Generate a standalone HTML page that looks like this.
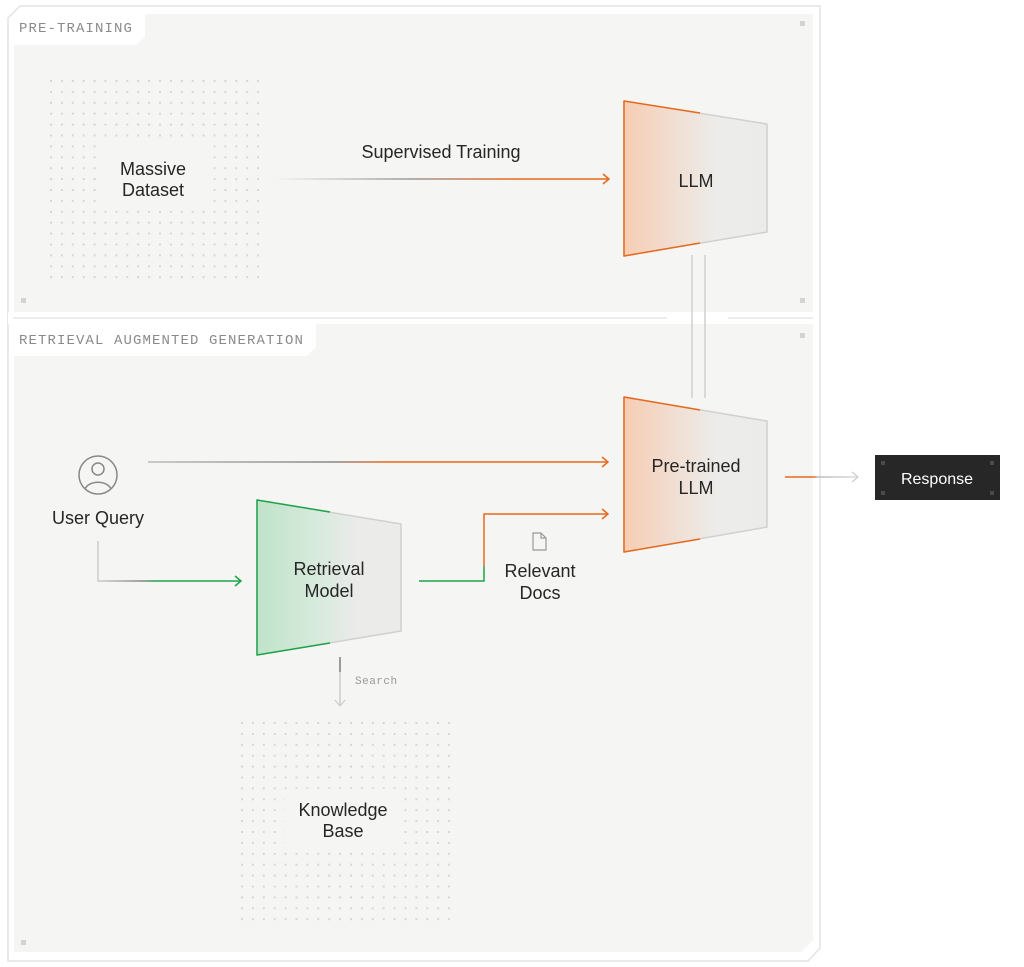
<!DOCTYPE html>
<html><head><meta charset="utf-8"><style>
html,body{margin:0;padding:0;background:#fff;}
svg{display:block;}
.t{font-family:"Liberation Sans",sans-serif;fill:#262626;font-size:18px;text-anchor:middle;}
.m{font-family:"Liberation Mono",monospace;fill:#8a8a8a;font-size:14px;letter-spacing:1.1px;}
</style></head><body>
<svg width="1024" height="967" viewBox="0 0 1024 967" xmlns="http://www.w3.org/2000/svg">
<defs>
<pattern id="dots" x="50" y="80" width="10.9" height="10.9" patternUnits="userSpaceOnUse">
<rect x="0" y="0" width="2" height="2" fill="#d6d6d6"/>
</pattern>
<linearGradient id="orng" x1="0" x2="1" y1="0" y2="0">
<stop offset="0" stop-color="#f6cdb3"/><stop offset="0.35" stop-color="#f1ded2"/><stop offset="0.65" stop-color="#ececea"/><stop offset="1" stop-color="#ebebea"/>
</linearGradient>
<linearGradient id="grn" x1="0" x2="1" y1="0" y2="0">
<stop offset="0" stop-color="#bfe3c9"/><stop offset="0.4" stop-color="#d6eadb"/><stop offset="0.7" stop-color="#ebebea"/><stop offset="1" stop-color="#ebebea"/>
</linearGradient>
<linearGradient id="l1" x1="275" x2="610" y1="0" y2="0" gradientUnits="userSpaceOnUse">
<stop offset="0" stop-color="#f5f5f4"/><stop offset="0.4" stop-color="#999"/><stop offset="0.7" stop-color="#e8691c"/><stop offset="1" stop-color="#e8691c"/>
</linearGradient>
<linearGradient id="l2" x1="148" x2="608" y1="0" y2="0" gradientUnits="userSpaceOnUse">
<stop offset="0" stop-color="#bbb"/><stop offset="0.4" stop-color="#888"/><stop offset="0.52" stop-color="#e8691c"/><stop offset="1" stop-color="#e8691c"/>
</linearGradient>
<linearGradient id="l3" x1="98" x2="242" y1="0" y2="0" gradientUnits="userSpaceOnUse">
<stop offset="0" stop-color="#ccc"/><stop offset="0.3" stop-color="#888"/><stop offset="0.4" stop-color="#1ea34a"/><stop offset="1" stop-color="#1ea34a"/>
</linearGradient>
<linearGradient id="l4" x1="785" x2="858" y1="0" y2="0" gradientUnits="userSpaceOnUse">
<stop offset="0" stop-color="#e8691c"/><stop offset="0.4" stop-color="#e8691c"/><stop offset="0.45" stop-color="#bbb"/><stop offset="1" stop-color="#ddd"/>
</linearGradient>
</defs>
<path d="M20,6 H820 V948 L808,961 H8 V18 Z" fill="#fff" stroke="#e3e3e3" stroke-width="1.5"/>
<rect x="14" y="14" width="799" height="298" fill="#f5f5f4"/>
<path d="M14,324 H813 V940 L801,952 H14 Z" fill="#f5f5f4"/>
<rect x="8" y="312" width="806" height="12" fill="#fff"/>
<line x1="14" y1="318" x2="666" y2="318" stroke="#e6e6e6" stroke-width="1.5" stroke-linecap="round"/>
<line x1="728" y1="318" x2="813" y2="318" stroke="#e6e6e6" stroke-width="1.5"/>
<path d="M14,14 H145 V36 L136,45 H14 Z" fill="#fff"/>
<text class="m" x="19" y="32">PRE-TRAINING</text>
<path d="M14,324 H316 V347 L307,356 H14 Z" fill="#fff"/>
<text class="m" x="19" y="344">RETRIEVAL AUGMENTED GENERATION</text>
<g fill="#d3d3d3"><rect x="800" y="21" width="5" height="5"/><rect x="21" y="298" width="5" height="5"/><rect x="800" y="298" width="5" height="5"/><rect x="800" y="333" width="5" height="5"/><rect x="21" y="940" width="5" height="5"/></g>
<rect x="49" y="79" width="210" height="200" fill="url(#dots)"/>
<rect x="96" y="143" width="115" height="63" fill="#f5f5f4"/>
<text class="t" x="153" y="175">Massive</text><text class="t" x="153" y="196">Dataset</text>
<pattern id="dots2" x="241" y="722" width="10.9" height="10.9" patternUnits="userSpaceOnUse"><rect width="2" height="2" fill="#d6d6d6"/></pattern>
<rect x="240" y="721" width="210" height="200" fill="url(#dots2)"/>
<rect x="285" y="789" width="115" height="63" fill="#f5f5f4"/>
<text class="t" x="343" y="816">Knowledge</text><text class="t" x="343" y="837">Base</text>
<text class="t" x="441" y="158">Supervised Training</text>
<line x1="275" y1="179" x2="609" y2="179" stroke="url(#l1)" stroke-width="1.5"/>
<path d="M603,174 L609,179 L603,184" fill="none" stroke="#e8691c" stroke-width="1.5"/>
<path d="M624,101 L767,124 V232 L624,256 Z" fill="url(#orng)" stroke="#d0d0d0" stroke-width="1.5" stroke-linejoin="round"/>
<path d="M700,113 L624,101 V256 L700,243" fill="none" stroke="#e8691c" stroke-width="1.5" stroke-linejoin="round"/>
<text class="t" x="696" y="187">LLM</text>
<line x1="692" y1="255" x2="692" y2="398" stroke="#d0d0d0" stroke-width="1.5"/>
<line x1="705" y1="255" x2="705" y2="398" stroke="#d0d0d0" stroke-width="1.5"/>
<path d="M624,397 L767,421 V527 L624,552 Z" fill="url(#orng)" stroke="#d0d0d0" stroke-width="1.5" stroke-linejoin="round"/>
<path d="M700,410 L624,397 V552 L700,539" fill="none" stroke="#e8691c" stroke-width="1.5" stroke-linejoin="round"/>
<text class="t" x="696" y="472">Pre-trained</text><text class="t" x="696" y="494">LLM</text>
<circle cx="98" cy="475" r="19" fill="none" stroke="#888" stroke-width="1.5"/>
<circle cx="98" cy="469" r="6" fill="none" stroke="#888" stroke-width="1.5"/>
<path d="M85,489 C89,480 107,480 111,489" fill="none" stroke="#888" stroke-width="1.5"/>
<text class="t" x="98" y="524">User Query</text>
<line x1="148" y1="462" x2="607" y2="462" stroke="url(#l2)" stroke-width="1.5"/>
<path d="M602,457 L608,462 L602,467" fill="none" stroke="#e8691c" stroke-width="1.5"/>
<path d="M98,541 V581 H241" fill="none" stroke="url(#l3)" stroke-width="1.5"/>
<path d="M235,576 L241,581 L235,586" fill="none" stroke="#1ea34a" stroke-width="1.5"/>
<path d="M257,500 L401,524 V631 L257,655 Z" fill="url(#grn)" stroke="#d0d0d0" stroke-width="1.5" stroke-linejoin="round"/>
<path d="M330,512 L257,500 V655 L330,643" fill="none" stroke="#1ea34a" stroke-width="1.5" stroke-linejoin="round"/>
<text class="t" x="329" y="575">Retrieval</text><text class="t" x="329" y="597">Model</text>
<path d="M419,581 H484 V566" fill="none" stroke="#1ea34a" stroke-width="1.5"/>
<path d="M484,566 V514 H607" fill="none" stroke="#e8691c" stroke-width="1.5"/>
<path d="M602,509 L608,514 L602,519" fill="none" stroke="#e8691c" stroke-width="1.5"/>
<path d="M533,533 H541 L546,538 V550 H533 Z M541,533 V538 H546" fill="none" stroke="#999" stroke-width="1.2"/>
<text class="t" x="540" y="577">Relevant</text><text class="t" x="540" y="599">Docs</text>
<line x1="340" y1="657" x2="340" y2="706" stroke="#ccc" stroke-width="1.5"/>
<line x1="340" y1="657" x2="340" y2="672" stroke="#555" stroke-width="1"/>
<path d="M335,700 L340,706 L345,700" fill="none" stroke="#ccc" stroke-width="1.2"/>
<text x="355" y="684" style="font-family:'Liberation Mono',monospace;font-size:11px;fill:#999;letter-spacing:0.5px">Search</text>
<line x1="785" y1="477" x2="858" y2="477" stroke="url(#l4)" stroke-width="1.5"/>
<path d="M852,472 L858,477 L852,482" fill="none" stroke="#ccc" stroke-width="1.2"/>
<rect x="875" y="455" width="125" height="45" fill="#272727"/>
<g fill="#4a4a4a"><rect x="881" y="461" width="4" height="4"/><rect x="990" y="461" width="4" height="4"/><rect x="881" y="491" width="4" height="4"/><rect x="990" y="491" width="4" height="4"/></g>
<text x="937" y="484" style="font-family:'Liberation Sans',sans-serif;font-size:16px;fill:#fff;text-anchor:middle">Response</text>
</svg>
</body></html>
